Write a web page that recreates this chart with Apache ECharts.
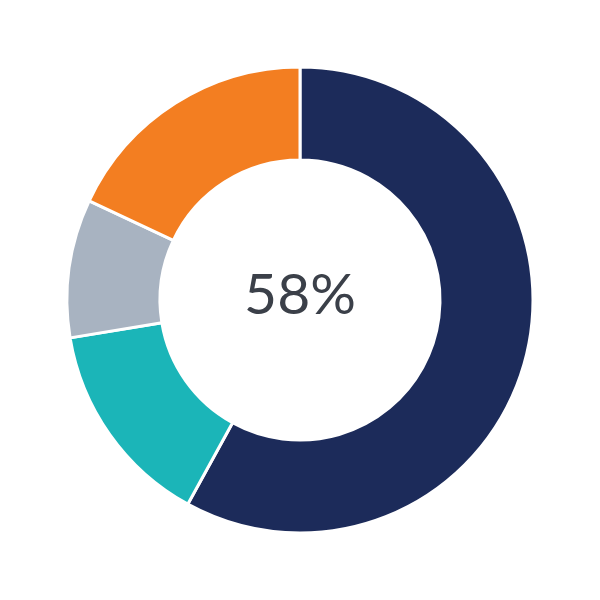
<!DOCTYPE html>
<html>
<head>
<meta charset="utf-8">
<script src="https://cdn.jsdelivr.net/npm/echarts@6/dist/echarts.min.js"></script>
<style>
  html, body { margin: 0; padding: 0; background: #fff; }
  #main { width: 600px; height: 600px; }
</style>
</head>
<body>
<div id="main"></div>
<script>
var names = ['A', 'B', 'C', 'D'];
var values = [58, 14.4, 9.6, 18];
var colors = ['#1c2b5a', '#1bb5b8', '#a8b3c1', '#f37e21'];
var centerLabel = '58%';

var chart = echarts.init(document.getElementById('main'));
var option = {
  animation: false,
  title: {
    text: centerLabel,
    left: 'center',
    top: 262,
    textStyle: {
      fontFamily: 'Lato',
      fontWeight: 'normal',
      fontSize: 57,
      color: '#3b4049'
    }
  },
  series: [{
    type: 'pie',
    center: ['50%', '50%'],
    radius: [140, 233],
    startAngle: 90,
    clockwise: true,
    label: { show: false },
    labelLine: { show: false },
    itemStyle: {
      borderColor: '#fff',
      borderWidth: 3
    },
    data: names.map(function (n, i) {
      return { name: n, value: values[i], itemStyle: { color: colors[i] } };
    })
  }]
};
chart.setOption(option);
</script>
</body>
</html>
